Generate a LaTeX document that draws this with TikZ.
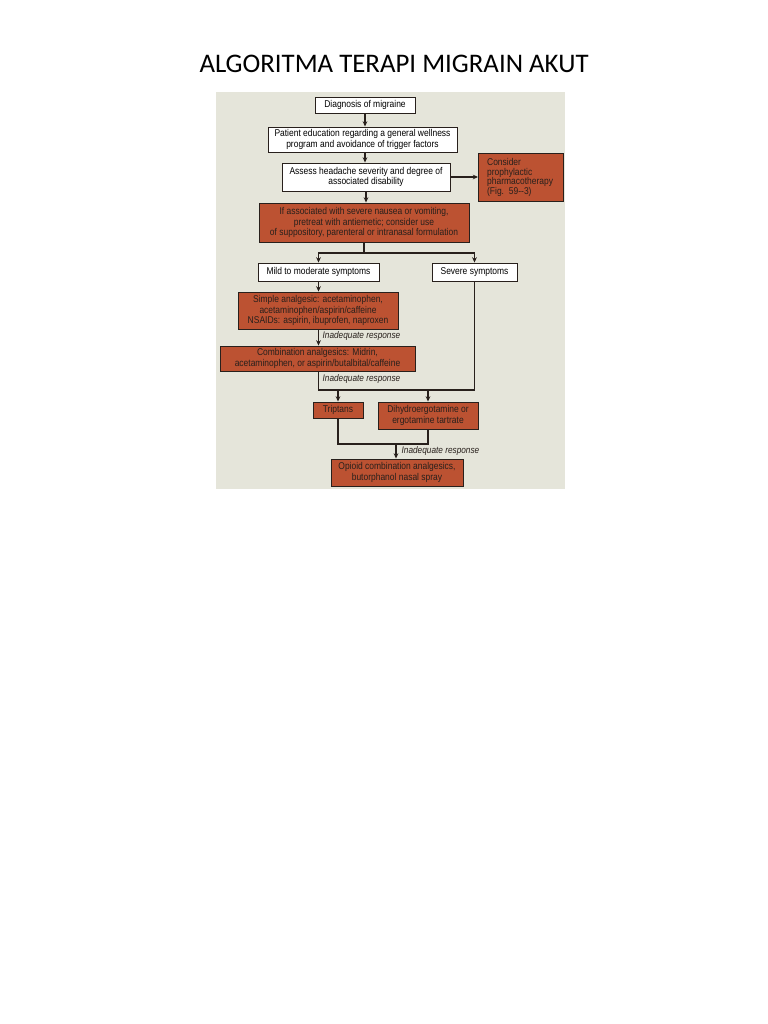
\documentclass[tikz,border=0pt]{standalone}
\usepackage{fontspec}
\setmainfont{Carlito}
\newfontfamily\boxfont[FakeStretch=0.86]{Liberation Sans}
\usetikzlibrary{arrows.meta}

\definecolor{panelgray}{RGB}{229,229,218}
\definecolor{rust}{RGB}{188,82,50}
\definecolor{darkline}{RGB}{40,32,28}

\tikzset{
    whitebox/.style={draw=darkline, fill=white, line width=0.8pt, font=\boxfont\fontsize{8.4}{9.3}\selectfont, align=center, inner sep=1pt},
    rustbox/.style={draw=darkline, fill=rust, line width=0.8pt, text=darkline, font=\boxfont\fontsize{8.4}{9.3}\selectfont, align=center, inner sep=1pt},
    resplabel/.style={anchor=west, inner sep=0pt, font=\boxfont\itshape\fontsize{8.2}{9}\selectfont, text=darkline}
}

\begin{document}
\begin{tikzpicture}[x=0.03cm, y=-0.03cm, line width=1.1pt, draw=darkline, >={Stealth[length=4.5pt,width=4pt]}]
    % Page with white margins
    \useasboundingbox (0,0) rectangle (768,1024);
    \fill[white] (0,0) rectangle (768,1024);

    % Title
    \node[anchor=base, font=\fontsize{22.9}{27}\selectfont] (title) at (394,72) {ALGORITMA TERAPI MIGRAIN AKUT};

    % Grey panel behind the flow chart
    \fill[panelgray] (216,92) rectangle (565,489);

    % Top of the chart
    \node[whitebox, minimum width=3cm, minimum height=0.48cm] (diag) at (365,105) {Diagnosis of migraine};
    \node[whitebox, minimum width=5.67cm, minimum height=0.75cm] (edu) at (362.5,139.5) {Patient education regarding a general wellness\\program and avoidance of trigger factors};
    \node[whitebox, minimum width=5.04cm, minimum height=0.84cm] (assess) at (366,177) {Assess headache severity and degree of\\associated disability};
    \node[rustbox, minimum width=2.55cm, minimum height=1.44cm, text width=2.03cm, align=left, inner xsep=7pt, inner ysep=3pt, anchor=north west, font=\boxfont\fontsize{8.4}{8.3}\selectfont] (consider) at (478,153) {Consider\\prophylactic\\pharmacotherapy\\(Fig. 59--3)};
    \node[rustbox, minimum width=6.3cm, minimum height=1.17cm] (pretreat) at (364,222.5) {If associated with severe nausea or vomiting,\\pretreat with antiemetic; consider use\\of suppository, parenteral or intranasal formulation};

    % Two branches
    \node[whitebox, minimum width=3.63cm, minimum height=0.54cm] (mild) at (318.5,272) {Mild to moderate symptoms};
    \node[whitebox, minimum width=2.55cm, minimum height=0.54cm] (severe) at (474.5,272) {Severe symptoms};

    \node[rustbox, minimum width=4.8cm, minimum height=1.11cm] (simple) at (318,310.5) {Simple analgesic: acetaminophen,\\acetaminophen/aspirin/caffeine\\NSAIDs: aspirin, ibuprofen, naproxen};
    \node[rustbox, minimum width=5.85cm, minimum height=0.75cm] (combi) at (317.5,358.5) {Combination analgesics: Midrin,\\acetaminophen, or aspirin/butalbital/caffeine};

    \node[rustbox, minimum width=1.5cm, minimum height=0.48cm] (triptans) at (338,410) {Triptans};
    \node[rustbox, minimum width=3cm, minimum height=0.81cm] (dhe) at (428,415.5) {Dihydroergotamine or\\ergotamine tartrate};
    \node[rustbox, minimum width=3.96cm, minimum height=0.81cm] (opioid) at (397,472.5) {Opioid combination analgesics,\\butorphanol nasal spray};

    % Labels on the arrows
    \node[resplabel] (resp1) at (322,336) {Inadequate response};
    \node[resplabel] (resp2) at (322,379.5) {Inadequate response};
    \node[resplabel] (resp3) at (401,451) {Inadequate response};

    % Junction points
    \coordinate (split) at (364,253);
    \coordinate (join) at (318,390);
    \coordinate (merge) at (396,444);

    % Connections
    \draw[->] (diag.south) -- (diag.south |- edu.north);
    \draw[->] (edu.south -| diag.south) -- (diag.south |- assess.north);
    \draw[->] (assess.south) -- (assess.south |- pretreat.north);
    \draw[->] (assess.east) -- (consider.west |- assess.east);
    \draw (pretreat.south) -- (pretreat.south |- split);
    \draw[->] (pretreat.south |- split) -| (mild.north);
    \draw[->] (pretreat.south |- split) -| (severe.north);
    \draw[->] (mild.south) -- (mild.south |- simple.north);
    \draw[->] (simple.south -| mild.south) -- (mild.south |- combi.north);
    \draw (combi.south -| mild.south) -- (mild.south |- join) -- (severe.south |- join) -- (severe.south);
    \draw[->] (triptans.north |- join) -- (triptans.north);
    \draw[->] (dhe.north |- join) -- (dhe.north);
    \draw (triptans.south) -- (triptans.south |- merge) -- (dhe.south |- merge) -- (dhe.south);
    \draw[->] (merge) -- (merge |- opioid.north);

\end{tikzpicture}
\end{document}
